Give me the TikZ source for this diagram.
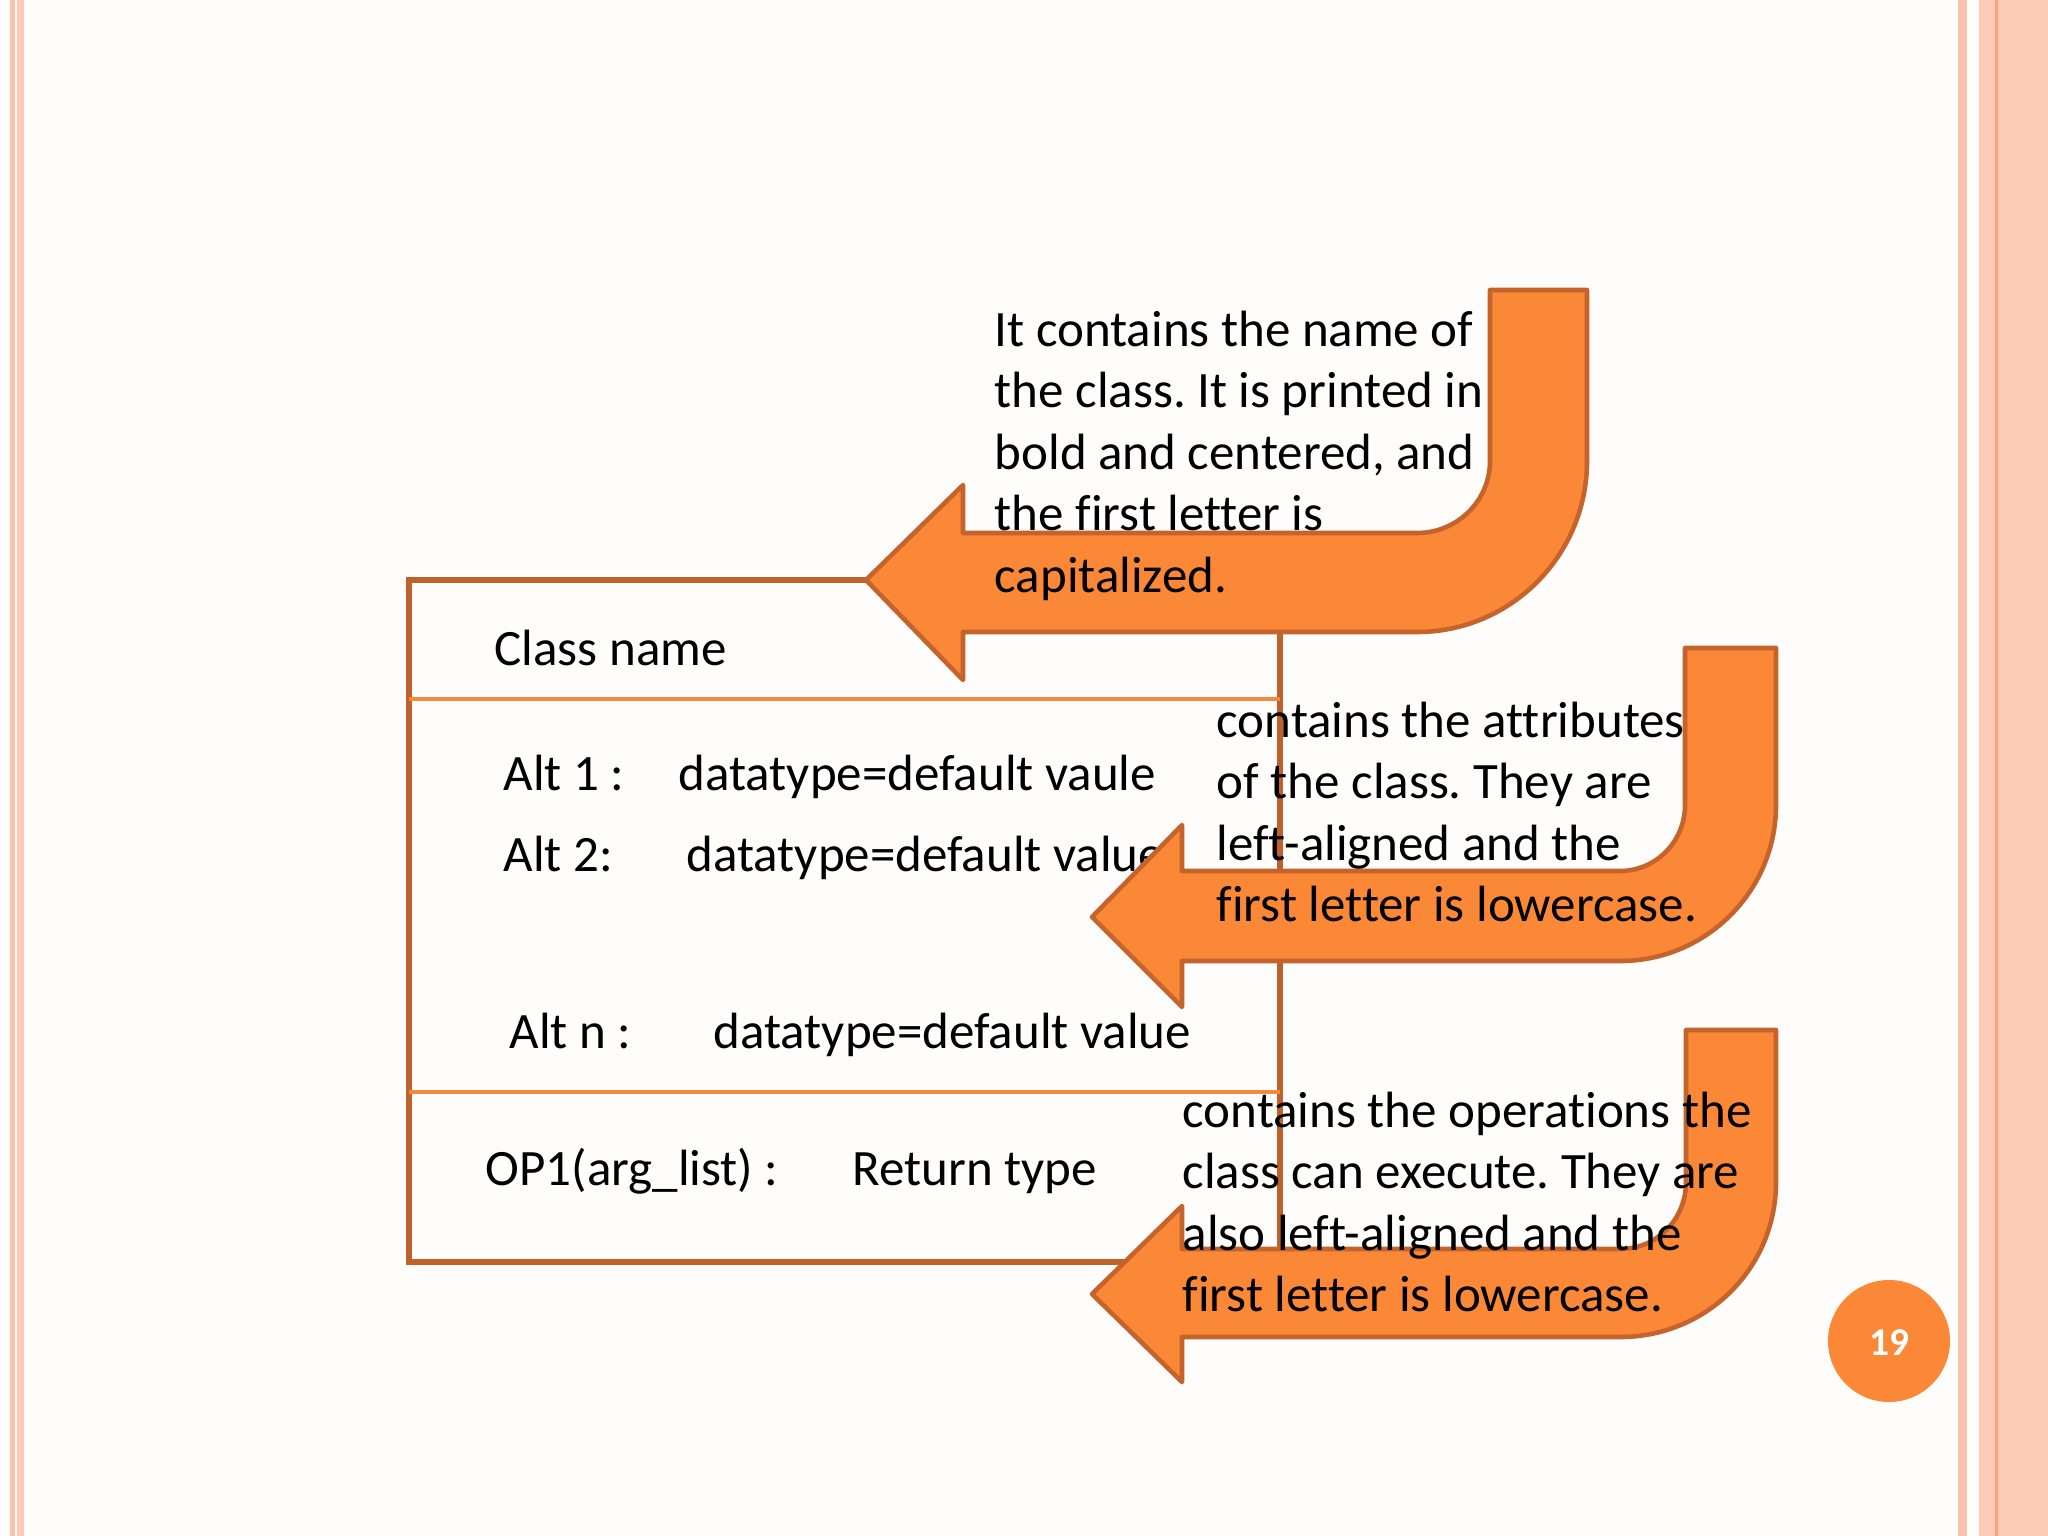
\documentclass[tikz,border=0pt]{standalone}
\usepackage{fontspec}
\setmainfont{Carlito}[Ligatures={NoCommon}]
\definecolor{arrfill}{HTML}{FA8836}
\definecolor{arrline}{HTML}{C4632C}
\definecolor{boxline}{HTML}{C0612B}
\definecolor{divline}{HTML}{F58A3C}
\definecolor{salmon}{HTML}{FCCAB5}
\definecolor{pinkline}{HTML}{F8C2AE}
\definecolor{stripeorange}{HTML}{F7A57A}
\definecolor{slidebg}{HTML}{FFFDFB}
\newcommand{\bodyfont}{\fontsize{14.5}{17.4}\selectfont\frenchspacing}
\tikzset{
  txt/.style={anchor=base west, inner sep=0pt, font=\bodyfont, text=black},
  uarrow/.style={fill=arrfill, draw=arrline, line width=1.3pt, line join=round},
  classbox/.style={draw=boxline, line width=1.5pt},
  divider/.style={draw=divline, line width=0.9pt},
}
\begin{document}
\begin{tikzpicture}[x=0.01cm,y=-0.01cm]
\useasboundingbox (0,0) rectangle (2048,1536);
\fill[slidebg] (0,0) rectangle (2048,1536);
% side stripes
\fill[pinkline] (10,0) rectangle (15,1536);
\fill[salmon] (16.5,0) rectangle (24,1536);
\fill[pinkline] (1958,0) rectangle (1967,1536);
\fill[salmon] (1979,0) rectangle (2048,1536);
\fill[stripeorange] (1995,0) rectangle (1997.5,1536);

% class box
\draw[classbox] (409,580) rectangle (1280,1262);
\draw[divider] (409,699) -- (1280,699);
\draw[divider] (409,1092) -- (1280,1092);

\node[txt] (cname) at (494,665) {Class name};
\node[txt] (alt1) at (503,790) {Alt 1 :};
\node[txt] (alt1v) at (678,790) {datatype=default vaule};
\node[txt] (alt2) at (503,871) {Alt 2:};
\node[txt] (alt2v) at (686,871) {datatype=default value};
\node[txt] (altn) at (509,1048) {Alt n :};
\node[txt] (altnv) at (713,1048) {datatype=default value};
\node[txt] (op1) at (485,1185) {OP1(arg\_list) :};
\node[txt] (op1v) at (852,1185) {Return type};

% arrow 1
\draw[uarrow] (1490,290) -- (1587,290) -- (1587,461)
  .. controls (1587,555.4) and (1510.9,632) .. (1417,632)
  -- (963,632) -- (963,680) -- (866,580) -- (963,485) -- (963,533)
  -- (1417,533) .. controls (1457.3,533) and (1490,500.8) .. (1490,461) -- cycle;
% arrow 2
\draw[uarrow] (1685,648) -- (1776,648) -- (1776,805)
  .. controls (1776,891.2) and (1706.2,961) .. (1620,961)
  -- (1182,961) -- (1182,1007) -- (1092,917) -- (1182,825) -- (1182,871)
  -- (1620,871) .. controls (1655.9,871) and (1685,841.5) .. (1685,805) -- cycle;
% arrow 3
\draw[uarrow] (1686,1030) -- (1776,1030) -- (1776,1182)
  .. controls (1776,1268.7) and (1706.2,1337) .. (1620,1337)
  -- (1182,1337) -- (1182,1382) -- (1092,1294) -- (1182,1206) -- (1182,1249)
  -- (1620,1249) .. controls (1656.5,1249) and (1686,1219.5) .. (1686,1182) -- cycle;

% arrow texts
\node[txt] (t1a) at (994,346) {It contains the name of};
\node[txt] (t1b) at (994,407.5) {the class. It is printed in};
\node[txt] (t1c) at (994,469) {bold and centered, and};
\node[txt] (t1d) at (994,530.5) {the first letter is};
\node[txt] (t1e) at (994,592) {capitalized.};

\node[txt] (t2a) at (1216,737) {contains the attributes};
\node[txt] (t2b) at (1216,798.5) {of the class. They are};
\node[txt] (t2c) at (1216,860) {left-aligned and the};
\node[txt] (t2d) at (1216,921.5) {first letter is lowercase.};

\node[txt] (t3a) at (1182,1127) {contains the operations the};
\node[txt] (t3b) at (1182,1188.5) {class can execute. They are};
\node[txt] (t3c) at (1182,1250) {also left-aligned and the};
\node[txt] (t3d) at (1182,1311.5) {first letter is lowercase.};

% page number
\fill[arrfill] (1889,1341) circle[radius=61];
\node[font=\fontsize{11.2}{13}\selectfont\bfseries, text=white, inner sep=0pt] (pnum) at (1889,1343) {19};
\end{tikzpicture}
\end{document}
